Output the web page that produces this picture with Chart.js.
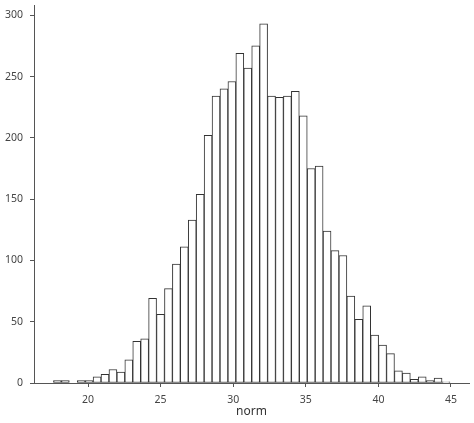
<!DOCTYPE html>
<html>
<head>
<meta charset="utf-8">
<script src="https://cdn.jsdelivr.net/npm/chart.js@4"></script>
<style>
  html, body { margin: 0; padding: 0; background: #fff; }
</style>
</head>
<body>
<canvas id="histChart" width="474" height="423"></canvas>
<script>
// histogram of "norm", 50 equal bins
const binStart = 17.62;
const binWidth = 0.5462;
const counts = [2, 2, 0, 2, 2, 5, 7, 11, 9, 19,
                34, 36, 69, 56, 77, 97, 111, 133, 154, 202,
                234, 240, 246, 269, 257, 275, 293, 234, 233, 234,
                238, 218, 175, 177, 124, 108, 104, 71, 52, 63,
                39, 31, 24, 10, 8, 3, 5, 2, 4, 1];
const xTicks = [20, 25, 30, 35, 40, 45];
const yTicks = [0, 50, 100, 150, 200, 250, 300];
const xTitle = 'norm';

const points = counts.map((c, i) => ({ x: binStart + binWidth * (i + 0.5), y: c }));

const tickColor = '#444';
const lineColor = '#555';
const font = { family: 'Noto Sans', size: 10.5 };

new Chart(document.getElementById('histChart'), {
    type: 'bar',
    data: {
        datasets: [{
            data: points,
            backgroundColor: '#ffffff',
            borderColor: '#333333',
            borderWidth: 1,
            borderSkipped: false,
            barPercentage: 1,
            categoryPercentage: 1
        }]
    },
    options: {
        responsive: false,
        animation: false,
        devicePixelRatio: 1,
        layout: { padding: { top: 5, right: 5, left: 0, bottom: 4 } },
        plugins: { legend: { display: false }, tooltip: { enabled: false } },
        scales: {
            x: {
                type: 'linear',
                offset: false,
                min: 16.28,
                max: 46.24,
                afterBuildTicks: axis => { axis.ticks = xTicks.map(v => ({ value: v })); },
                afterFit: axis => {
                    axis.height = 36;
                    axis.paddingLeft = 0;
                    axis.paddingRight = 0;
                },
                grid: { offset: false, drawOnChartArea: false, tickLength: 4, color: lineColor },
                border: { color: lineColor },
                ticks: { color: tickColor, font: font, padding: 7, maxRotation: 0 },
                title: { display: true, text: xTitle, color: '#333', font: { family: 'Noto Sans', size: 12 }, padding: { top: 0, bottom: 0 } }
            },
            y: {
                min: 0,
                max: 308.4,
                afterBuildTicks: axis => { axis.ticks = yTicks.map(v => ({ value: v })); },
                afterFit: axis => {
                    axis.width = 34;
                    axis.paddingTop = 0;
                    axis.paddingBottom = 0;
                },
                grid: { drawOnChartArea: false, tickLength: 4, color: lineColor },
                border: { color: lineColor },
                ticks: { color: tickColor, font: font, padding: 7 }
            }
        }
    }
});
</script>
</body>
</html>
